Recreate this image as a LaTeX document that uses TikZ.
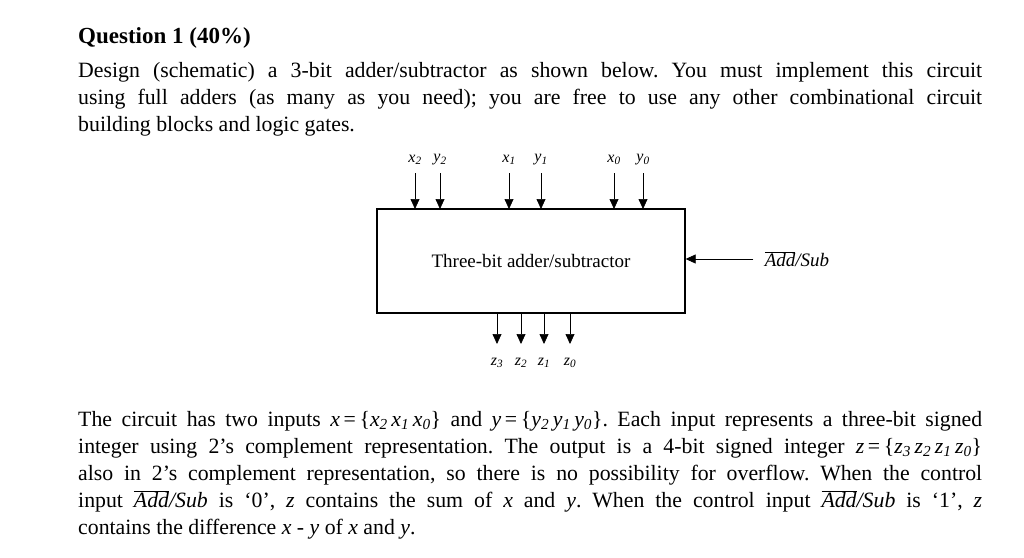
\documentclass[tikz,border=0pt]{standalone}
\usepackage{fontspec}
\setmainfont{Liberation Serif}
\usetikzlibrary{arrows.meta}
\newcommand{\ital}[2]{\textit{#1}\textsubscript{\textit{#2}}}
\newcommand{\addsub}{$\overline{\hbox{\textit{Add}}}$\textit{/Sub}}
\tikzset{
  sig/.style={-{Triangle[length=10pt,width=9pt]},line width=0.7pt},
  pin/.style={font=\fontsize{16}{16}\selectfont},
  para/.style={anchor=north west,inner sep=0,text width=904pt,align=justify,font=\fontsize{21.8}{27}\selectfont\frenchspacing}
}
\begin{document}
\begin{tikzpicture}[x=1pt,y=-1pt]
\useasboundingbox (0,0) rectangle (1024,557);
\node[anchor=base west,inner sep=0,font=\fontsize{23}{23}\selectfont\bfseries] (title) at (78,43) {Question 1 (40\%)};
\node[para] (intro) at (78,62) {Design (schematic) a 3-bit adder/subtractor as shown below. You must implement this circuit\linebreak using full adders (as many as you need); you are free to use any other combinational circuit\linebreak building blocks and logic gates.};

\node[draw,line width=1.3pt,minimum width=308pt,minimum height=104pt,inner sep=0,font=\fontsize{19}{19}\selectfont] (box) at (531,261) {Three-bit adder/subtractor};

% inputs
\foreach \n/\xx/\lab in {x2/415/\ital{x}{2},y2/440/\ital{y}{2},x1/509/\ital{x}{1},y1/541/\ital{y}{1},x0/614/\ital{x}{0},y0/643/\ital{y}{0}}{
  \node[pin] (\n) at (\xx,160) {\lab};
  \coordinate (\n in) at (\xx,209);
  \draw[sig] (\xx,173) -- (\n in);
}
% outputs
\foreach \n/\xx/\lab in {z3/497/\ital{z}{3},z2/521/\ital{z}{2},z1/544/\ital{z}{1},z0/570/\ital{z}{0}}{
  \node[pin] (\n) at (\xx,363) {\lab};
  \coordinate (\n out) at (\xx,313);
  \draw[sig] (\n out) -- (\xx,344);
}
\node[font=\fontsize{19}{19}\selectfont] (ctrl) at (797,259) {\addsub};
\draw[sig] (ctrl.west) ++(-8,0) coordinate (c0) -- (box.east |- c0);

\node[para] (text) at (78,411) {The circuit has two inputs \textit{x}\,=\,\{\ital{x}{2}\,\ital{x}{1}\,\ital{x}{0}\} and \textit{y}\,=\,\{\ital{y}{2}\,\ital{y}{1}\,\ital{y}{0}\}. Each input represents a three-bit signed\linebreak integer using 2's complement representation. The output is a 4-bit signed integer \textit{z}\,=\,\{\ital{z}{3}\,\ital{z}{2}\,\ital{z}{1}\,\ital{z}{0}\}\linebreak also in 2's complement representation, so there is no possibility for overflow. When the control\linebreak input \addsub\ is `0', \textit{z} contains the sum of \textit{x} and \textit{y}. When the control input \addsub\ is `1', \textit{z}\linebreak contains the difference \textit{x} - \textit{y} of \textit{x} and \textit{y}.};
\end{tikzpicture}
\end{document}
